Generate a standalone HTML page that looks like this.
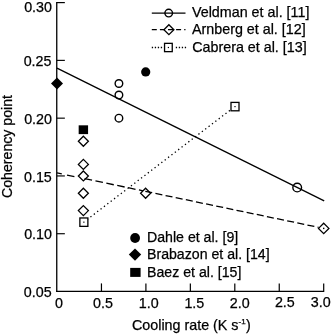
<!DOCTYPE html><html><head><meta charset="utf-8"><style>html,body{margin:0;padding:0;background:#fff}svg{display:block}text{font-family:"Liberation Sans",Arial,sans-serif;font-size:14.3px;fill:#000;stroke:#000;stroke-width:0.25px}</style></head><body>
<svg width="332" height="335" viewBox="0 0 332 335">
<rect width="332" height="335" fill="#fff"/>
<g stroke="#000" stroke-width="1.2" fill="none">
<path d="M56.75 2.00V291.4" stroke-width="1.3"/>
<path d="M56.75 2.60h8.1"/>
<path d="M56.05 291.4H323.70V283.4"/>
<path d="M56.75 233.72h8.1" stroke-width="1.15"/>
<path d="M56.75 175.94h8.1" stroke-width="1.15"/>
<path d="M56.75 118.16h8.1" stroke-width="1.15"/>
<path d="M56.75 60.38h8.1" stroke-width="1.15"/>
<path d="M101.45 291.5v-8.1"/>
<path d="M145.90 291.5v-8.1"/>
<path d="M190.35 291.5v-8.1"/>
<path d="M234.80 291.5v-8.1"/>
<path d="M279.25 291.5v-8.1"/>
</g>
<text x="52.0" y="12.10" text-anchor="end">0.30</text>
<text x="51.5" y="65.88" text-anchor="end">0.25</text>
<text x="52.0" y="123.81" text-anchor="end">0.20</text>
<text x="51.8" y="182.24" text-anchor="end">0.15</text>
<text x="52.0" y="239.12" text-anchor="end">0.10</text>
<text x="51.6" y="297.40" text-anchor="end">0.05</text>
<text x="58.90" y="308.00" text-anchor="middle">0</text>
<text x="102.95" y="307.88" text-anchor="middle">0.5</text>
<text x="148.70" y="307.77" text-anchor="middle">1.0</text>
<text x="194.35" y="307.65" text-anchor="middle">1.5</text>
<text x="239.80" y="307.53" text-anchor="middle">2.0</text>
<text x="284.85" y="307.42" text-anchor="middle">2.5</text>
<text x="320.80" y="307.30" text-anchor="middle">3.0</text>
<text x="132" y="330.3">Cooling rate (K s<tspan font-size="8" dy="-6.3">-1</tspan><tspan dy="6.3" dx="0.3">)</tspan></text>
<text transform="translate(12.2,198) rotate(-90)" style="font-size:14.15px">Coherency point</text>
<path d="M57 68.1L324.2 200.9" stroke="#000" stroke-width="1.3" fill="none"/>
<path d="M57.0 172.94L61.8 173.93M67.0 175.02L74.4 176.55" stroke="#000" stroke-width="1.3" fill="none"/>
<path d="M84.6 178.68L143.0 190.82" stroke="#000" stroke-width="1.3" stroke-dasharray="7.6 3.5" fill="none"/>
<path d="M145.3 191.30L318.6 227.34" stroke="#000" stroke-width="1.3" stroke-dasharray="7.05 3.3" fill="none"/>
<path d="M83.67 222.16L234.80 106.60" stroke="#000" stroke-width="1.3" stroke-dasharray="1.3 2.95" fill="none"/>
<circle cx="118.93" cy="83.49" r="3.8" fill="none" stroke="#000" stroke-width="1.4"/>
<circle cx="118.93" cy="95.05" r="3.8" fill="none" stroke="#000" stroke-width="1.4"/>
<circle cx="118.93" cy="118.16" r="3.8" fill="none" stroke="#000" stroke-width="1.4"/>
<circle cx="297.20" cy="187.55" r="4.35" fill="none" stroke="#000" stroke-width="1.4"/>
<path d="M83.37 136.27L88.37 141.27L83.37 146.27L78.37 141.27Z" fill="none" stroke="#000" stroke-width="1.3"/>
<path d="M83.37 159.38L88.37 164.38L83.37 169.38L78.37 164.38Z" fill="none" stroke="#000" stroke-width="1.3"/>
<path d="M83.37 170.94L88.37 175.94L83.37 180.94L78.37 175.94Z" fill="none" stroke="#000" stroke-width="1.3"/>
<path d="M83.37 188.27L88.37 193.27L83.37 198.27L78.37 193.27Z" fill="none" stroke="#000" stroke-width="1.3"/>
<path d="M83.37 205.61L88.37 210.61L83.37 215.61L78.37 210.61Z" fill="none" stroke="#000" stroke-width="1.3"/>
<path d="M145.60 188.27L150.60 193.27L145.60 198.27L140.60 193.27Z" fill="none" stroke="#000" stroke-width="1.3"/>
<path d="M323.70 223.20L328.90 228.40L323.70 233.60L318.50 228.40Z" fill="none" stroke="#000" stroke-width="1.3"/>
<rect x="323" y="227.7" width="1.4" height="1.4" fill="#000"/>
<rect x="79.87" y="217.96" width="8.0" height="8.4" fill="#fff" stroke="#000" stroke-width="1.3"/>
<rect x="83.27" y="221.56" width="1.2" height="1.2" fill="#000"/>
<rect x="231.00" y="102.40" width="8.0" height="8.4" fill="#fff" stroke="#000" stroke-width="1.3"/>
<rect x="234.40" y="106.00" width="1.2" height="1.2" fill="#000"/>
<circle cx="145.70" cy="71.94" r="4.6" fill="#000" stroke="#000" stroke-width="0"/>
<path d="M57.00 77.49L63.00 83.49L57.00 89.49L51.00 83.49Z" fill="#000" stroke="#000" stroke-width="0"/>
<rect x="78.67" y="125.32" width="9.4" height="8.8" fill="#000"/>
<path d="M151.8 13.1H185.5" stroke="#000" stroke-width="1.3"/>
<circle cx="168.70" cy="13.10" r="3.8" fill="none" stroke="#000" stroke-width="1.4"/>
<path d="M151.8 29.7H185.5" stroke="#000" stroke-width="1.3" stroke-dasharray="5 3.1"/>
<path d="M168.90 24.70L173.90 29.70L168.90 34.70L163.90 29.70Z" fill="none" stroke="#000" stroke-width="1.3"/>
<path d="M151.8 47.5H163M175.8 47.5H186.4" stroke="#000" stroke-width="1.4" stroke-dasharray="1.3 1.7"/>
<rect x="164.55" y="43.35" width="7.7" height="8.3" fill="#fff" stroke="#000" stroke-width="1.3"/>
<rect x="167.80" y="46.90" width="1.2" height="1.2" fill="#000"/>
<text x="192" y="16.8">Veldman et al. [11]</text>
<text x="192" y="33.9">Arnberg et al. [12]</text>
<text x="192.2" y="51.7">Cabrera et al. [13]</text>
<circle cx="135.10" cy="238.00" r="4.9" fill="#000" stroke="#000" stroke-width="0"/>
<path d="M135.00 248.40L141.20 254.60L135.00 260.80L128.80 254.60Z" fill="#000" stroke="#000" stroke-width="0"/>
<rect x="130.20" y="267.90" width="10.4" height="9.0" fill="#000"/>
<text x="147" y="242" style="font-size:14.15px">Dahle et al. [9]</text>
<text x="147" y="259" style="font-size:14.15px">Brabazon et al. [14]</text>
<text x="147" y="276.7" style="font-size:14.15px">Baez et al. [15]</text>
</svg></body></html>
